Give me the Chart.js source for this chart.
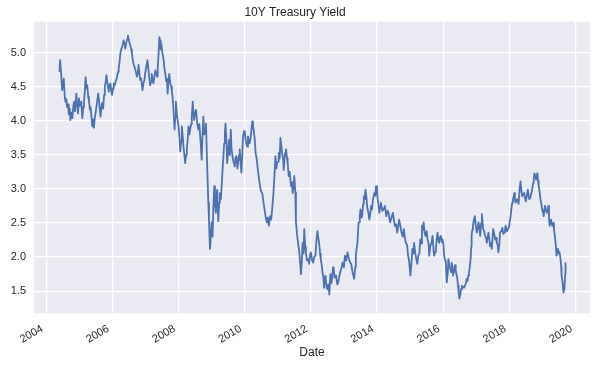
<!DOCTYPE html>
<html lang="en">
<head>
    <meta charset="UTF-8">
    <title>10Y Treasury Yield</title>
    <script src="https://cdn.jsdelivr.net/npm/chart.js"></script>
    <style>
        body {
            margin: 0;
            padding: 0;
            background-color: #fff;
        }
    </style>
</head>
<body>
    <canvas id="myChart" width="603" height="366"></canvas>
    <script>
        // decimal years, with the yield (%) at each
        const years = [
            2004.40, 2004.42, 2004.45, 2004.48, 2004.53, 2004.56, 2004.58, 2004.61, 2004.63, 2004.66,
            2004.68, 2004.71, 2004.73, 2004.76, 2004.79, 2004.82, 2004.84, 2004.87, 2004.91, 2004.94,
            2004.96, 2004.99, 2005.02, 2005.06, 2005.09, 2005.12, 2005.14, 2005.17, 2005.19, 2005.22,
            2005.24, 2005.27, 2005.29, 2005.32, 2005.34, 2005.37, 2005.39, 2005.42, 2005.44, 2005.47,
            2005.49, 2005.53, 2005.57, 2005.60, 2005.64, 2005.67, 2005.69, 2005.72, 2005.75, 2005.77,
            2005.80, 2005.82, 2005.85, 2005.89, 2005.91, 2005.94, 2005.97, 2005.99, 2006.02, 2006.04,
            2006.07, 2006.10, 2006.14, 2006.17, 2006.19, 2006.22, 2006.24, 2006.27, 2006.30, 2006.34,
            2006.37, 2006.39, 2006.42, 2006.45, 2006.47, 2006.50, 2006.54, 2006.57, 2006.59, 2006.62,
            2006.65, 2006.67, 2006.71, 2006.74, 2006.77, 2006.79, 2006.82, 2006.84, 2006.87, 2006.91,
            2006.94, 2006.97, 2006.99, 2007.02, 2007.06, 2007.09, 2007.12, 2007.14, 2007.17, 2007.19,
            2007.22, 2007.24, 2007.27, 2007.30, 2007.33, 2007.35, 2007.37, 2007.40, 2007.42, 2007.44,
            2007.46, 2007.48, 2007.51, 2007.55, 2007.57, 2007.60, 2007.63, 2007.65, 2007.67, 2007.69,
            2007.72, 2007.75, 2007.78, 2007.80, 2007.82, 2007.85, 2007.88, 2007.90, 2007.92, 2007.95,
            2007.97, 2008.00, 2008.03, 2008.05, 2008.08, 2008.10, 2008.13, 2008.15, 2008.18, 2008.20,
            2008.23, 2008.25, 2008.28, 2008.30, 2008.33, 2008.35, 2008.38, 2008.40, 2008.43, 2008.45,
            2008.47, 2008.50, 2008.53, 2008.56, 2008.60, 2008.63, 2008.67, 2008.70, 2008.72, 2008.75,
            2008.78, 2008.80, 2008.83, 2008.85, 2008.87, 2008.90, 2008.92, 2008.95, 2008.97, 2009.00,
            2009.03, 2009.05, 2009.08, 2009.10, 2009.13, 2009.15, 2009.17, 2009.20, 2009.23, 2009.25,
            2009.28, 2009.31, 2009.33, 2009.36, 2009.38, 2009.40, 2009.42, 2009.45, 2009.47, 2009.50,
            2009.53, 2009.55, 2009.58, 2009.60, 2009.63, 2009.66, 2009.70, 2009.72, 2009.75, 2009.78,
            2009.80, 2009.83, 2009.85, 2009.88, 2009.90, 2009.93, 2009.95, 2009.98, 2010.00, 2010.03,
            2010.05, 2010.08, 2010.10, 2010.13, 2010.15, 2010.18, 2010.20, 2010.23, 2010.25, 2010.27,
            2010.30, 2010.33, 2010.36, 2010.40, 2010.42, 2010.45, 2010.48, 2010.50, 2010.53, 2010.57,
            2010.60, 2010.63, 2010.67, 2010.70, 2010.73, 2010.77, 2010.80, 2010.83, 2010.87, 2010.90,
            2010.93, 2010.96, 2010.98, 2011.01, 2011.03, 2011.06, 2011.08, 2011.11, 2011.13, 2011.16,
            2011.18, 2011.21, 2011.25, 2011.28, 2011.30, 2011.33, 2011.36, 2011.40, 2011.43, 2011.45,
            2011.48, 2011.50, 2011.53, 2011.55, 2011.58, 2011.60, 2011.63, 2011.65, 2011.68, 2011.70,
            2011.73, 2011.75, 2011.78, 2011.80, 2011.83, 2011.85, 2011.88, 2011.92, 2011.95, 2011.98,
            2012.00, 2012.04, 2012.07, 2012.10, 2012.14, 2012.17, 2012.20, 2012.22, 2012.25, 2012.28,
            2012.30, 2012.33, 2012.35, 2012.38, 2012.40, 2012.43, 2012.45, 2012.48, 2012.50, 2012.53,
            2012.56, 2012.59, 2012.62, 2012.64, 2012.67, 2012.69, 2012.72, 2012.76, 2012.80, 2012.83,
            2012.86, 2012.89, 2012.93, 2012.96, 2013.00, 2013.03, 2013.07, 2013.11, 2013.15, 2013.19,
            2013.22, 2013.26, 2013.29, 2013.31, 2013.34, 2013.36, 2013.39, 2013.41, 2013.44, 2013.46,
            2013.48, 2013.50, 2013.53, 2013.55, 2013.58, 2013.60, 2013.63, 2013.65, 2013.68, 2013.70,
            2013.74, 2013.77, 2013.80, 2013.82, 2013.85, 2013.88, 2013.92, 2013.95, 2013.97, 2014.00,
            2014.02, 2014.05, 2014.07, 2014.10, 2014.12, 2014.16, 2014.20, 2014.24, 2014.28, 2014.32,
            2014.35, 2014.38, 2014.40, 2014.44, 2014.48, 2014.51, 2014.54, 2014.58, 2014.61, 2014.64,
            2014.67, 2014.70, 2014.74, 2014.78, 2014.81, 2014.84, 2014.87, 2014.91, 2014.94, 2014.97,
            2015.01, 2015.04, 2015.07, 2015.10, 2015.12, 2015.16, 2015.19, 2015.22, 2015.25, 2015.28,
            2015.31, 2015.34, 2015.36, 2015.39, 2015.41, 2015.44, 2015.47, 2015.50, 2015.53, 2015.56,
            2015.58, 2015.61, 2015.65, 2015.68, 2015.71, 2015.73, 2015.76, 2015.78, 2015.81, 2015.83,
            2015.86, 2015.88, 2015.91, 2015.93, 2015.96, 2015.98, 2016.01, 2016.03, 2016.06, 2016.08,
            2016.11, 2016.14, 2016.16, 2016.19, 2016.21, 2016.24, 2016.26, 2016.28, 2016.30, 2016.33,
            2016.36, 2016.38, 2016.41, 2016.43, 2016.45, 2016.47, 2016.49, 2016.52, 2016.54, 2016.57,
            2016.60, 2016.63, 2016.66, 2016.69, 2016.71, 2016.74, 2016.76, 2016.78, 2016.80, 2016.83,
            2016.85, 2016.86, 2016.88, 2016.90, 2016.93, 2016.96, 2016.99, 2017.02, 2017.05, 2017.07,
            2017.10, 2017.12, 2017.15, 2017.17, 2017.19, 2017.21, 2017.24, 2017.27, 2017.30, 2017.32,
            2017.35, 2017.37, 2017.40, 2017.42, 2017.45, 2017.47, 2017.49, 2017.51, 2017.54, 2017.57,
            2017.60, 2017.62, 2017.65, 2017.67, 2017.70, 2017.72, 2017.76, 2017.79, 2017.82, 2017.84,
            2017.87, 2017.89, 2017.93, 2017.96, 2017.99, 2018.01, 2018.04, 2018.06, 2018.09, 2018.11,
            2018.13, 2018.15, 2018.17, 2018.19, 2018.22, 2018.25, 2018.28, 2018.31, 2018.34, 2018.36,
            2018.39, 2018.42, 2018.45, 2018.48, 2018.50, 2018.53, 2018.56, 2018.59, 2018.61, 2018.64,
            2018.67, 2018.70, 2018.72, 2018.74, 2018.76, 2018.79, 2018.81, 2018.83, 2018.85, 2018.87,
            2018.89, 2018.92, 2018.94, 2018.97, 2018.99, 2019.02, 2019.04, 2019.06, 2019.08, 2019.11,
            2019.13, 2019.16, 2019.18, 2019.20, 2019.22, 2019.24, 2019.26, 2019.28, 2019.30, 2019.33,
            2019.35, 2019.38, 2019.40, 2019.43, 2019.45, 2019.47, 2019.50, 2019.52, 2019.55, 2019.57,
            2019.58, 2019.61, 2019.63, 2019.64, 2019.66, 2019.67, 2019.69, 2019.70
        ];
        const yields = [
            4.72, 4.89, 4.70, 4.45, 4.62, 4.35, 4.28, 4.32, 4.20, 4.24,
            4.10, 4.18, 4.01, 4.12, 4.04, 4.22, 4.28, 4.14, 4.40, 4.20,
            4.11, 4.33, 4.22, 4.28, 4.04, 4.20, 4.28, 4.45, 4.64, 4.48,
            4.52, 4.35, 4.30, 4.16, 4.20, 4.05, 3.92, 4.02, 3.90, 4.05,
            4.11, 4.25, 4.40, 4.28, 4.06, 4.20, 4.26, 4.18, 4.38, 4.50,
            4.58, 4.67, 4.55, 4.43, 4.52, 4.55, 4.42, 4.38, 4.48, 4.55,
            4.52, 4.58, 4.64, 4.72, 4.77, 4.88, 4.99, 5.05, 5.10, 5.18,
            5.12, 5.06, 5.15, 5.20, 5.25, 5.18, 5.11, 5.05, 4.99, 4.88,
            4.82, 4.79, 4.72, 4.65, 4.70, 4.82, 4.68, 4.60, 4.62, 4.45,
            4.55, 4.60, 4.69, 4.78, 4.89, 4.75, 4.62, 4.52, 4.58, 4.69,
            4.60, 4.55, 4.65, 4.74, 4.68, 4.65, 4.78, 5.02, 5.23, 5.18,
            5.05, 5.13, 5.00, 4.89, 4.78, 4.69, 4.58, 4.62, 4.40, 4.55,
            4.69, 4.55, 4.50, 4.42, 4.35, 4.15, 3.87, 4.05, 4.28, 4.10,
            4.02, 3.92, 3.75, 3.55, 3.70, 3.92, 3.75, 3.62, 3.48, 3.38,
            3.50, 3.58, 3.75, 3.92, 3.80, 3.87, 3.95, 4.06, 4.28, 4.10,
            4.01, 4.12, 4.16, 3.98, 3.87, 3.95, 3.67, 3.43, 3.72, 4.06,
            3.80, 3.87, 3.96, 3.60, 3.28, 2.80, 2.55, 2.12, 2.25, 2.51,
            2.30, 2.70, 3.04, 2.78, 2.65, 2.90, 2.99, 2.53, 2.80, 2.94,
            2.85, 3.10, 3.28, 3.50, 3.67, 3.80, 3.96, 3.70, 3.38, 3.55,
            3.72, 3.50, 3.87, 3.60, 3.48, 3.40, 3.33, 3.45, 3.48, 3.30,
            3.38, 3.50, 3.58, 3.35, 3.24, 3.55, 3.77, 3.85, 3.84, 3.72,
            3.67, 3.62, 3.77, 3.70, 3.67, 3.75, 3.85, 3.99, 3.92, 3.87,
            3.75, 3.53, 3.45, 3.28, 3.20, 3.09, 3.00, 2.96, 2.94, 2.80,
            2.70, 2.60, 2.51, 2.58, 2.46, 2.60, 2.55, 2.70, 2.94, 3.20,
            3.48, 3.30, 3.38, 3.40, 3.53, 3.45, 3.75, 3.62, 3.53, 3.45,
            3.28, 3.48, 3.58, 3.45, 3.38, 3.19, 3.25, 3.04, 3.10, 2.94,
            3.05, 3.19, 2.95, 2.51, 2.35, 2.26, 2.15, 2.07, 1.90, 1.75,
            1.95, 2.21, 2.05, 2.41, 2.15, 2.07, 1.95, 1.97, 1.90, 2.05,
            2.07, 1.95, 1.92, 2.00, 2.02, 2.25, 2.38, 2.30, 2.21, 2.05,
            1.97, 1.88, 1.78, 1.70, 1.55, 1.72, 1.68, 1.55, 1.53, 1.60,
            1.45, 1.75, 1.62, 1.68, 1.85, 1.83, 1.70, 1.73, 1.60, 1.63,
            1.72, 1.78, 1.85, 1.92, 1.85, 2.02, 1.95, 2.07, 1.98, 1.92,
            1.90, 1.78, 1.72, 1.68, 1.85, 2.02, 2.15, 2.21, 2.50, 2.51,
            2.60, 2.70, 2.58, 2.60, 2.78, 2.89, 2.85, 2.99, 2.88, 2.75,
            2.65, 2.55, 2.65, 2.75, 2.70, 2.85, 2.94, 2.90, 3.04, 2.98,
            2.85, 2.75, 2.65, 2.75, 2.80, 2.68, 2.70, 2.75, 2.60, 2.68,
            2.65, 2.55, 2.51, 2.58, 2.65, 2.55, 2.46, 2.48, 2.36, 2.45,
            2.55, 2.48, 2.36, 2.30, 2.41, 2.30, 2.21, 2.18, 2.02, 1.95,
            1.73, 1.90, 2.12, 2.05, 2.21, 2.05, 1.97, 1.90, 2.02, 2.05,
            2.26, 2.20, 2.46, 2.40, 2.51, 2.35, 2.31, 2.38, 2.26, 2.20,
            2.02, 2.16, 2.21, 2.31, 2.10, 2.02, 2.08, 2.12, 2.28, 2.36,
            2.25, 2.21, 2.30, 2.31, 2.22, 2.26, 2.18, 2.02, 1.95, 1.92,
            1.63, 1.78, 1.97, 1.88, 1.83, 1.78, 1.92, 1.85, 1.73, 1.80,
            1.88, 1.80, 1.73, 1.68, 1.58, 1.48, 1.39, 1.45, 1.53, 1.58,
            1.56, 1.55, 1.58, 1.62, 1.68, 1.65, 1.73, 1.78, 1.83, 1.97,
            2.15, 2.31, 2.40, 2.46, 2.55, 2.60, 2.45, 2.36, 2.45, 2.51,
            2.40, 2.31, 2.50, 2.63, 2.52, 2.41, 2.38, 2.31, 2.28, 2.21,
            2.30, 2.36, 2.25, 2.16, 2.20, 2.12, 2.25, 2.41, 2.35, 2.26,
            2.28, 2.21, 2.18, 2.07, 2.20, 2.36, 2.38, 2.43, 2.34, 2.36,
            2.40, 2.46, 2.38, 2.41, 2.44, 2.51, 2.60, 2.70, 2.80, 2.85,
            2.88, 2.94, 2.86, 2.80, 2.84, 2.85, 2.78, 2.99, 3.11, 3.00,
            2.89, 2.92, 2.94, 2.86, 2.82, 2.90, 2.99, 2.88, 2.85, 2.88,
            2.94, 3.02, 3.09, 3.15, 3.23, 3.18, 3.14, 3.20, 3.23, 3.12,
            3.04, 2.95, 2.85, 2.78, 2.70, 2.66, 2.60, 2.70, 2.75, 2.68,
            2.65, 2.70, 2.75, 2.58, 2.46, 2.52, 2.55, 2.50, 2.46, 2.50,
            2.41, 2.30, 2.21, 2.02, 2.08, 2.12, 2.05, 2.07, 1.97, 1.85,
            1.73, 1.63, 1.52, 1.48, 1.53, 1.58, 1.75, 1.92
        ];
        const xTicks = [2004, 2006, 2008, 2010, 2012, 2014, 2016, 2018, 2020];
        const yTicks = [1.5, 2.0, 2.5, 3.0, 3.5, 4.0, 4.5, 5.0];

        const textColor = '#262626';
        Chart.defaults.font.family = "'Liberation Sans', Arial, sans-serif";
        Chart.defaults.color = textColor;

        // seaborn-like grey panel behind the plot
        const plotBackground = {
            id: 'plotBackground',
            beforeDraw(chart) {
                const { ctx, chartArea } = chart;
                ctx.save();
                ctx.fillStyle = '#eaeaf2';
                ctx.fillRect(chartArea.left, chartArea.top, chartArea.width, chartArea.height);
                ctx.restore();
            }
        };

        const ctx = document.getElementById('myChart');
        const myChart = new Chart(ctx, {
            type: 'line',
            data: {
                datasets: [{
                    label: '10Y Treasury Yield',
                    data: years.map((x, i) => ({ x: x, y: yields[i] })),
                    borderColor: '#4c72b0',
                    borderWidth: 1.8,
                    borderJoinStyle: 'round',
                    pointRadius: 0,
                    tension: 0,
                }]
            },
            options: {
                responsive: false,
                animation: false,
                layout: {
                    padding: { left: 0, right: 13, top: 0, bottom: 0 }
                },
                plugins: {
                    legend: { display: false },
                    tooltip: { enabled: false },
                    title: {
                        display: true,
                        text: '10Y Treasury Yield',
                        color: textColor,
                        font: { size: 12, weight: 'normal' },
                        padding: { top: 5, bottom: 2.3 }
                    }
                },
                scales: {
                    x: {
                        type: 'linear',
                        min: 2003.63,
                        max: 2020.44,
                        afterBuildTicks: (scale) => {
                            scale.ticks = xTicks.map(v => ({ value: v }));
                        },
                        afterFit: (scale) => {
                            scale.height = 52.7;
                        },
                        border: { display: false },
                        grid: { color: '#ffffff', lineWidth: 1.25, drawTicks: false },
                        ticks: {
                            autoSkip: false,
                            minRotation: 30,
                            maxRotation: 30,
                            padding: 9,
                            labelOffset: -4,
                            color: textColor,
                            font: { size: 11 },
                            callback: (v) => String(v)
                        },
                        title: {
                            display: true,
                            text: 'Date',
                            color: textColor,
                            font: { size: 12 },
                            padding: { top: 0, bottom: 6 }
                        }
                    },
                    y: {
                        min: 1.175,
                        max: 5.455,
                        afterBuildTicks: (scale) => {
                            scale.ticks = yTicks.map(v => ({ value: v }));
                        },
                        afterFit: (scale) => {
                            scale.width = 34;
                        },
                        border: { display: false },
                        grid: { color: '#ffffff', lineWidth: 1.25, drawTicks: false },
                        ticks: {
                            padding: 8,
                            color: textColor,
                            font: { size: 11 },
                            callback: (v) => v.toFixed(1)
                        }
                    }
                }
            },
            plugins: [plotBackground]
        });
    </script>
</body>
</html>
